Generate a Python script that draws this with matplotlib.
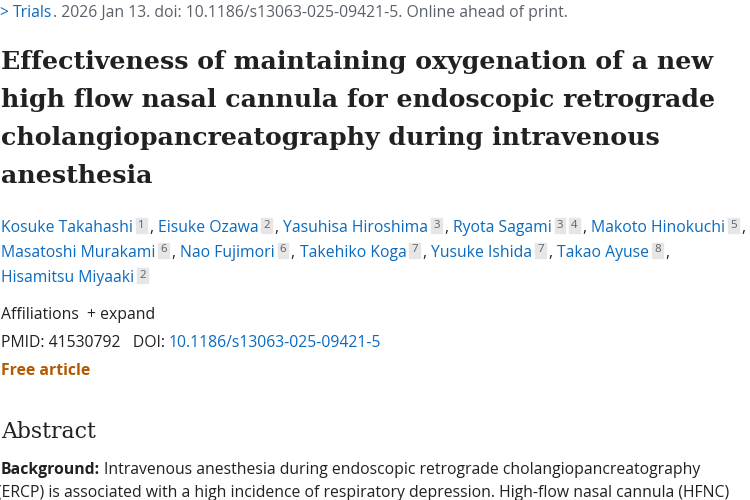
import matplotlib
matplotlib.use("Agg")
import matplotlib.pyplot as plt
from matplotlib.patches import Rectangle

BLUE = "#0b6bbf"; GRAY = "#5b616b"; DARK = "#212121"; ORANGE = "#b35a00"
header = [("> ", BLUE), ("Trials", BLUE), (". 2026 Jan 13. doi: 10.1186/s13063-025-09421-5. Online ahead of print.", GRAY)]
title_lines = ["Effectiveness of maintaining oxygenation of a new",
               "high flow nasal cannula for endoscopic retrograde",
               "cholangiopancreatography during intravenous",
               "anesthesia"]
authors = [[("Kosuke Takahashi", ["1"]), ("Eisuke Ozawa", ["2"]), ("Yasuhisa Hiroshima", ["3"]),
            ("Ryota Sagami", ["3", "4"]), ("Makoto Hinokuchi", ["5"])],
           [("Masatoshi Murakami", ["6"]), ("Nao Fujimori", ["6"]), ("Takehiko Koga", ["7"]),
            ("Yusuke Ishida", ["7"]), ("Takao Ayuse", ["8"])],
           [("Hisamitsu Miyaaki", ["2"])]]
pmid = "41530792"; doi = "10.1186/s13063-025-09421-5"
abstract_l1 = "Intravenous anesthesia during endoscopic retrograde cholangiopancreatography"
abstract_l2 = "(ERCP) is associated with a high incidence of respiratory depression. High-flow nasal cannula (HFNC)"

W, H = 750, 500
fig = plt.figure(figsize=(7.5, 5), dpi=100)
fig.patch.set_facecolor("white")
r = fig.canvas.get_renderer()
SANS = ["Open Sans", "DejaVu Sans"]
SERIF = ["DejaVu Serif"]
BODY = 15.8

def txt(x, y, s, px=BODY, color=DARK, family=SANS, weight="normal"):
    t = fig.text(x / W, 1 - y / H, s, fontsize=px * 0.72, color=color, family=family,
                 weight=weight, va="center", ha="left")
    return x + t.get_window_extent(r).width

def sup(x, y, n):
    x += 5
    for i, s in enumerate(n):
        t = fig.text(x / W, 1 - (y - 3) / H, s, fontsize=11.5 * 0.72, color=GRAY, family=SANS,
                     va="center", ha="left")
        w = t.get_window_extent(r).width
        fig.patches.append(Rectangle(((x - 2) / W, 1 - (y + 5) / H), (w + 4) / W, 15 / H,
                                     transform=fig.transFigure, color="#e6e6e6", zorder=0))
        x += w + 8
    return x

x = 0
for s, c in header:
    x = txt(x, 13, s, BODY, c)

for i, line in enumerate(title_lines):
    txt(1, 62 + 38 * i, line, 25.2, DARK, SERIF, "bold")

for j, row in enumerate(authors):
    x = 1
    y = 228 + 25 * j
    for k, (name, n) in enumerate(row):
        x = txt(x, y, name, BODY, BLUE)
        x = sup(x, y, n)
        last = (j == len(authors) - 1 and k == len(row) - 1)
        if not last:
            x = txt(x - 3, y, ", ", BODY, DARK)

x = txt(1, 315, "Affiliations", BODY, DARK)
txt(x + 8, 315, "+ expand", BODY, DARK)
x = txt(1, 343, "PMID: " + pmid + "   DOI: ", BODY, DARK)
txt(x, 343, doi, BODY, BLUE)
txt(1, 371, "Free article", BODY, ORANGE, weight="bold")
txt(1, 432, "Abstract", 22, DARK, SERIF)
x = txt(1, 470, "Background:", BODY, DARK, weight="bold")
txt(x + 4, 470, abstract_l1, BODY, DARK)
txt(-3, 493, abstract_l2, BODY, DARK)

fig.savefig("out.png", dpi=100)
